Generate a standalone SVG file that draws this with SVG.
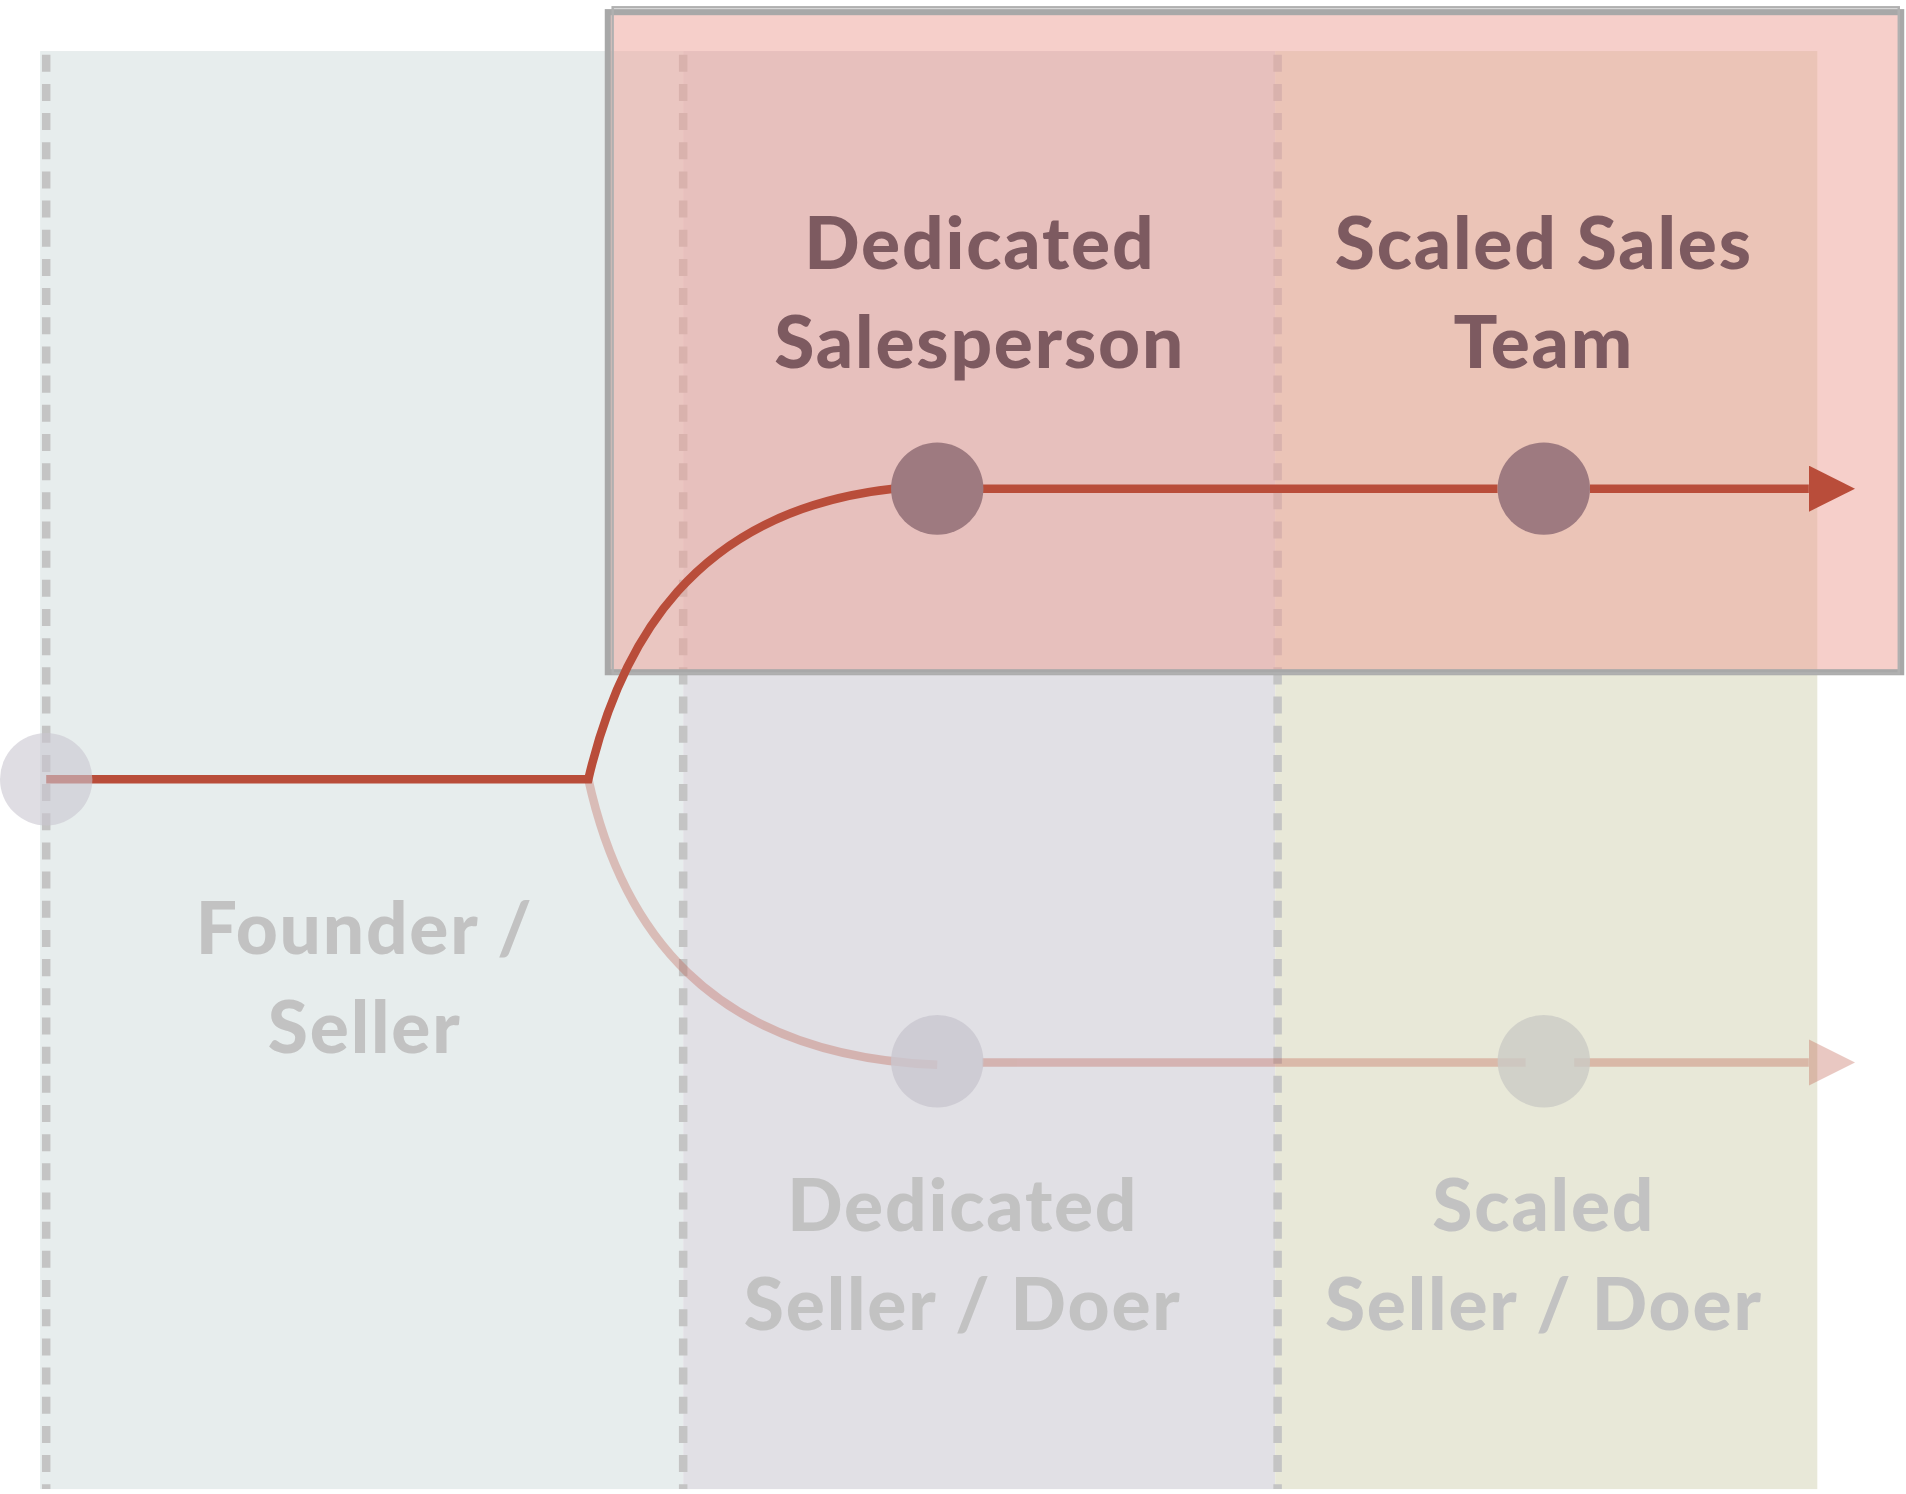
<svg xmlns="http://www.w3.org/2000/svg" width="1906" height="1494" viewBox="0 0 1906 1494">
<style>
.t{font-family:"Lato","Liberation Sans",sans-serif;font-weight:900;font-size:60px;letter-spacing:1.5px;text-anchor:middle}
.hi{fill:#7d5a60}
.lo{fill:#c2c2c2}
.dash{stroke:#c4c4c4;stroke-width:7;stroke-dasharray:14 10;fill:none}
</style>
<defs>
<marker id="ah" viewBox="0 0 10 10" refX="0" refY="5" markerWidth="38" markerHeight="38" markerUnits="userSpaceOnUse" orient="auto"><path d="M0,0 L10,5 L0,10z" fill="#b94d3a"/></marker>
</defs>
<rect width="1906" height="1494" fill="#fff"/>
<g transform="scale(1.2156)">
<g id="panel-founder"><rect x="33" y="42" width="529" height="1183" fill="#e7eded"/></g>
<g id="panel-dedicated"><rect x="562" y="42" width="487" height="1183" fill="#e1e0e5"/></g>
<g id="panel-scaled"><rect x="1049" y="42" width="446" height="1183" fill="#e8e8d8"/></g>
<line class="dash" x1="38" y1="45" x2="38" y2="1225"/>
<line class="dash" x1="562" y1="45" x2="562" y2="1225"/>
<line class="dash" x1="1051" y1="45" x2="1051" y2="1225"/>
<g id="highlight">
<rect x="500" y="10" width="1064" height="543" fill="#eda096" fill-opacity="0.5" stroke="#a8a8a8" stroke-width="5"/>
<rect x="504" y="6" width="1058" height="548" fill="none" stroke="#b0b0b0" stroke-width="2"/>
</g>
<g id="connectors" fill="none">
<path d="M38,641 H484 C510,530 570,420 735,402" stroke="#b94d3a" stroke-width="7"/>
<line x1="808" y1="402" x2="1232" y2="402" stroke="#b94d3a" stroke-width="7"/>
<line x1="1308" y1="402" x2="1488" y2="402" stroke="#b94d3a" stroke-width="7" marker-end="url(#ah)"/>
<g opacity="0.3">
<path d="M484,641 C510,760 580,868 771,876" stroke="#b94d3a" stroke-width="7"/>
<line x1="808" y1="874" x2="1255" y2="874" stroke="#b94d3a" stroke-width="7"/>
<line x1="1295" y1="874" x2="1488" y2="874" stroke="#b94d3a" stroke-width="7" marker-end="url(#ah)"/>
</g>
</g>
<g id="node-founder"><circle cx="38" cy="641" r="38" fill="#c9c7d0" opacity="0.6"/>
<text class="t lo" x="300" y="785">Founder /</text><text class="t lo" x="300" y="866">Seller</text></g>
<g id="node-dedicated-salesperson"><circle cx="771" cy="402" r="38" fill="#9e7a80"/>
<text class="t hi" x="806" y="221">Dedicated</text><text class="t hi" x="806" y="303">Salesperson</text></g>
<g id="node-scaled-sales-team"><circle cx="1270" cy="402" r="38" fill="#9e7a80"/>
<text class="t hi" x="1270" y="221">Scaled Sales</text><text class="t hi" x="1270" y="303">Team</text></g>
<g id="node-dedicated-doer"><circle cx="771" cy="873" r="38" fill="#c9c7d0" opacity="0.8"/>
<text class="t lo" x="792" y="1013">Dedicated</text><text class="t lo" x="792" y="1094">Seller / Doer</text></g>
<g id="node-scaled-doer"><circle cx="1270" cy="873" r="38" fill="#cbcac5" opacity="0.8"/>
<text class="t lo" x="1270" y="1013">Scaled</text><text class="t lo" x="1270" y="1094">Seller / Doer</text></g>
</g>
</svg>
